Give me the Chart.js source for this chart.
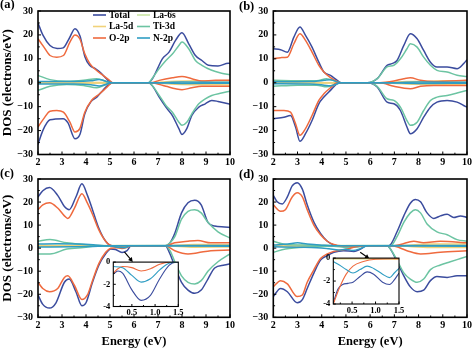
<!DOCTYPE html>
<html><head><meta charset="utf-8">
<script src="https://cdn.jsdelivr.net/npm/chart.js@4.4.1/dist/chart.umd.min.js"></script>
<style>
html,body{margin:0;padding:0;background:#fff;width:474px;height:349px;overflow:hidden}
canvas{position:absolute}
</style></head><body>
<canvas id="ca" width="237" height="168" style="left:0;top:0"></canvas>
<canvas id="cb" width="237" height="168" style="left:237px;top:0"></canvas>
<canvas id="cc" width="237" height="181" style="left:0;top:168px"></canvas>
<canvas id="cd" width="237" height="181" style="left:237px;top:168px"></canvas>
<canvas id="ic" width="88" height="66" style="left:98px;top:254px"></canvas>
<canvas id="idd" width="88" height="66" style="left:318px;top:250px"></canvas>
<script>
// ---------- tick / category info ----------
const energyTicks = [2,3,4,5,6,7,8,9,10];
const dosTicks = [-30,-20,-10,0,10,20,30];
const insetXTicks = [0.5,1.0,1.5];
const insetYTicks = [0,-2,-4];
const seriesNames = ['Total','La-6s','La-5d','Ti-3d','O-2p','N-2p'];

// ---------- panel (a) ----------
const a_total_up = [[2,25],[2.2,20],[2.5,15.6],[2.8,14.3],[3.05,14.6],[3.3,18.5],[3.54,22.6],[3.75,19.5],[3.95,11],[4.15,7.3],[4.4,5.8],[4.6,4.3],[4.85,1.7],[5.05,0.1],[5.2,0],[6.6,0],[6.77,1.7],[6.98,5.9],[7.18,10],[7.46,12.8],[7.73,17.7],[8.0,20.9],[8.28,16.3],[8.56,11.4],[8.83,9.3],[9.1,7.3],[9.5,7.0],[9.93,8.2],[10,8]];
const a_total_dn = [[2,-25.8],[2.2,-20],[2.5,-15.5],[3.05,-15],[3.25,-16.8],[3.54,-23.4],[3.75,-21.5],[3.95,-13],[4.2,-8],[4.45,-6],[4.7,-3.2],[4.95,-0.7],[5.1,0],[6.6,0],[6.75,-1.1],[7.05,-6],[7.33,-10.2],[7.6,-13.7],[7.87,-19.2],[8.0,-21.6],[8.2,-19.2],[8.41,-13.7],[8.7,-10.2],[8.97,-8.8],[9.24,-7.4],[9.5,-7.8],[9.93,-8.8],[10,-9]];
const a_o2p_up = [[2,18.4],[2.24,15],[2.5,11.4],[2.78,10.7],[3.06,11.4],[3.33,17],[3.54,20],[3.74,18.4],[3.95,12.1],[4.16,8],[4.43,5.2],[4.71,3.1],[4.98,1],[5.1,0],[6.7,0],[7.05,1],[7.6,2.1],[8.0,2.6],[8.41,1.7],[8.83,0.7],[9.4,1],[10,1]];
const a_o2p_dn = [[2,-18.5],[2.24,-15],[2.5,-11.9],[2.78,-11.6],[3.06,-12.3],[3.33,-16.5],[3.54,-20.6],[3.74,-19.2],[3.95,-12.3],[4.23,-7.4],[4.57,-4.6],[4.85,-2.1],[5.1,0],[6.7,0],[7.33,-1.5],[7.73,-2.5],[8.0,-2.9],[8.41,-2.1],[8.83,-1.5],[10,-1.5]];
const a_ti3d_up = [[2,3.1],[2.5,1.3],[3.2,0.6],[3.9,1],[4.45,1.7],[4.85,0.5],[5.1,0],[6.6,0],[6.77,2],[7.05,5.9],[7.33,9.3],[7.6,12],[7.87,15.6],[8.0,17],[8.28,14.2],[8.56,9.3],[8.83,7.3],[9.24,5.2],[9.65,4],[10,3.3]];
const a_ti3d_dn = [[2,-3.2],[2.5,-1.5],[3.2,-0.7],[3.9,-1.1],[4.45,-2.1],[4.85,-0.7],[5.1,0],[6.6,0],[7.05,-5.3],[7.33,-9.5],[7.6,-12.3],[7.87,-16.5],[8.0,-17.8],[8.2,-16.5],[8.41,-13],[8.7,-8.8],[8.97,-6.7],[9.24,-5.3],[9.65,-4.3],[10,-3.5]];
const a_n2p_up = [[2,0.5],[3.5,0.5],[4.2,0.8],[4.55,1.4],[4.9,0.4],[5.1,0],[6.8,0],[8,0.3],[10,0.2]];
const a_n2p_dn = [[2,-0.5],[3.5,-0.5],[4.2,-0.8],[4.55,-1.4],[4.9,-0.4],[5.1,0],[6.8,0],[8,-0.3],[10,-0.2]];
const a_la5d_up = [[2,0.2],[5,0.1],[5.1,0],[6.7,0],[7.5,0.5],[8.5,0.8],[10,0.9]];
const a_la5d_dn = [[2,-0.2],[5,-0.1],[5.1,0],[6.7,0],[7.5,-0.5],[8.5,-0.8],[10,-0.9]];
const a_la6s_up = [[2,0.1],[5,0.05],[6.7,0],[10,0.2]];
const a_la6s_dn = [[2,-0.1],[5,-0.05],[6.7,0],[10,-0.2]];

// ---------- panel (b) ----------
const b_total_up = [[2,14.2],[2.3,13.8],[2.58,12.8],[2.85,19.1],[3.1,23.3],[3.33,19.8],[3.6,14.9],[3.88,8.6],[4.09,4.5],[4.36,3.1],[4.64,1],[4.8,0],[5.88,0],[6.29,1.7],[6.7,7.3],[6.9,8],[7.11,9.3],[7.39,15.6],[7.66,20.5],[7.94,18.4],[8.21,13.5],[8.49,8.6],[8.76,6.6],[9.18,6.6],[9.59,5.9],[9.86,8],[10,9.6]];
const b_total_dn = [[2,-15],[2.44,-14.4],[2.71,-13.7],[2.92,-18.5],[3.1,-24.5],[3.33,-21.3],[3.6,-15.8],[3.88,-8.8],[4.09,-6],[4.36,-3.2],[4.64,-0.4],[4.8,0],[5.88,0],[6.29,-1.8],[6.7,-8.1],[6.98,-8.8],[7.25,-11.6],[7.52,-18.5],[7.66,-21.3],[7.94,-19.2],[8.21,-14.4],[8.49,-10.2],[8.76,-8.1],[9.18,-7.4],[9.59,-8.1],[9.86,-9.5],[10,-10.2]];
const b_o2p_up = [[2,10],[2.3,10.5],[2.58,10.7],[2.85,16.3],[3.1,20.5],[3.33,17.7],[3.6,12.8],[3.88,7.3],[4.09,4.5],[4.36,2.1],[4.64,0.5],[4.8,0],[6.4,0],[6.98,0.7],[7.39,1.7],[7.66,2.1],[8.08,1],[8.63,0.5],[10,1]];
const b_o2p_dn = [[2,-11.6],[2.44,-11.6],[2.71,-12.3],[2.92,-17.2],[3.1,-22],[3.33,-19.2],[3.6,-13.7],[3.88,-7.4],[4.09,-4.6],[4.36,-2.1],[4.64,0],[6.4,0],[6.98,-1.5],[7.66,-2.5],[8.08,-1.5],[8.63,-1.1],[10,-1.1]];
const b_ti3d_up = [[2,1],[3,0.8],[3.8,0.8],[4.2,1.7],[4.6,0.5],[4.8,0],[5.88,0],[6.29,1.7],[6.7,6.6],[6.98,7.3],[7.25,10],[7.52,14.2],[7.66,16.3],[7.94,14.9],[8.21,10.7],[8.49,7.3],[8.76,5.2],[9.18,4.5],[9.59,3.1],[10,2.6]];
const b_ti3d_dn = [[2,-1.5],[3,-1],[3.8,-1],[4.2,-1.7],[4.6,-0.5],[4.8,0],[5.88,0],[6.29,-1.5],[6.7,-6.7],[6.98,-7.4],[7.25,-10.2],[7.52,-15.8],[7.66,-17.8],[7.94,-16.5],[8.21,-11.6],[8.49,-7.4],[8.76,-6],[9.18,-5.3],[9.59,-4.3],[10,-3.2]];
const b_n2p_up = [[2,0.4],[3.5,0.5],[4.1,1],[4.35,1.3],[4.7,0.2],[4.8,0],[6.5,0],[8,0.3],[10,0.2]];
const b_n2p_dn = [[2,-0.4],[3.5,-0.5],[4.1,-1],[4.35,-1.3],[4.7,-0.2],[4.8,0],[6.5,0],[8,-0.3],[10,-0.2]];
const b_la5d_up = [[2,0.2],[4.8,0],[6.5,0],[7.5,0.5],[9,0.8],[10,0.9]];
const b_la5d_dn = [[2,-0.2],[4.8,0],[6.5,0],[7.5,-0.5],[9,-0.8],[10,-0.9]];
const b_la6s_up = [[2,0.1],[4.8,0],[6.5,0],[10,0.2]];
const b_la6s_dn = [[2,-0.1],[4.8,0],[6.5,0],[10,-0.2]];

// ---------- panel (c) ----------
const c_total_up = [[2,22.2],[2.2,24.9],[2.48,26.3],[2.82,22.9],[3.1,18.1],[3.3,16.7],[3.58,22.2],[3.83,27.9],[4.06,22.9],[4.27,16.7],[4.54,8.5],[4.82,3],[5.09,1],[7.3,1],[7.5,2.3],[7.7,6.4],[7.98,15.3],[8.25,19.7],[8.53,20.8],[8.8,18.8],[9.08,11.2],[9.36,9.6],[9.77,9.2],[10,9]];
const c_total_dn = [[2,-20.3],[2.2,-24.4],[2.48,-26],[2.75,-23.7],[3.1,-14.8],[3.3,-13.4],[3.58,-18.9],[3.83,-25],[4.0,-23.7],[4.27,-14.8],[4.54,-7.3],[4.82,-2.5],[5.03,-0.4],[5.23,-0.6],[5.5,-1.9],[5.71,-1.1],[5.88,1],[7.3,1],[7.5,-2.5],[7.7,-7.9],[7.98,-14.8],[8.25,-18.2],[8.53,-19.6],[8.8,-18.2],[9.08,-13.4],[9.36,-8.6],[9.77,-7.3],[10,-6.8]];
const c_o2p_up = [[2,16.7],[2.2,18.8],[2.48,19.7],[2.82,17.4],[3.1,14],[3.24,12.9],[3.52,17.4],[3.83,23.6],[4.06,19.5],[4.27,14.7],[4.54,7.8],[4.82,3],[5.09,1],[7.3,1],[7.7,2.3],[8.25,3],[8.66,3.3],[9.2,2.3],[10,2.3]];
const c_o2p_dn = [[2,-14.8],[2.2,-17.5],[2.48,-18.9],[2.82,-17.5],[3.1,-12.7],[3.24,-12],[3.52,-16.2],[3.83,-22.3],[4.06,-20.3],[4.27,-14.1],[4.54,-6.6],[4.82,-1.8],[5.03,0],[5.25,0.2],[5.5,-0.1],[5.75,0.5],[5.9,1],[7.3,1],[7.7,-1.1],[8.25,-2.5],[8.66,-2],[9.2,-1.1],[10,-0.8]];
const c_ti3d_up = [[2,3],[2.5,3.7],[3.2,2.3],[3.9,1.6],[4.6,1],[7.3,1],[7.5,2.3],[7.7,5],[7.98,12.6],[8.25,16],[8.53,16.7],[8.8,15.3],[9.08,11.2],[9.5,7.1],[10,4.4]];
const c_ti3d_dn = [[2,-2.5],[2.5,-2.5],[3.2,-0.4],[3.9,0.3],[4.6,1],[5.1,1],[5.5,0.2],[5.85,1],[7.3,1],[7.5,-1.1],[7.7,-5.9],[7.98,-12],[8.25,-14.8],[8.53,-15.5],[8.8,-14.1],[9.08,-10],[9.5,-5.9],[10,-2.5]];
const c_n2p_up = [[2,1.8],[2.8,1.9],[3.6,1.8],[4.3,1.5],[4.9,1],[10,1.2]];
const c_n2p_dn = [[2,0.5],[3.5,0.6],[4.5,0.8],[5.0,1],[5.3,0.4],[5.6,0.2],[5.85,1],[10,0.8]];
const c_la5d_up = [[2,1.2],[5,1],[7.3,1],[8.5,1.6],[10,1.5]];
const c_la5d_dn = [[2,0.8],[5,1],[7.3,1],[8.5,0.4],[10,0.5]];
const c_la6s_up = [[2,1.1],[10,1.1]];
const c_la6s_dn = [[2,0.9],[10,0.9]];

// ---------- panel (d) ----------
const d_total_up = [[2,22.9],[2.16,20.1],[2.37,19.2],[2.58,22.2],[2.78,27],[2.99,28.4],[3.2,25.6],[3.4,18.8],[3.68,11.2],[3.95,6.4],[4.23,3],[4.5,1.4],[4.8,1],[6.7,1],[6.84,1.5],[7.11,7.1],[7.39,14],[7.66,19.5],[7.87,21.1],[8.08,20.1],[8.35,15.3],[8.63,12.9],[8.9,14],[9.18,14.7],[9.45,13.3],[9.73,14],[10,13.3]];
const d_total_dn = [[2,-21],[2.3,-17.5],[2.58,-18.9],[2.99,-23.7],[3.2,-22.3],[3.4,-17.5],[3.68,-10.7],[3.95,-5.2],[4.23,-3.2],[4.5,-1.8],[4.9,-1.1],[5.33,-1.4],[5.6,-0.4],[5.85,1],[6.7,1],[6.84,-0.4],[7.11,-5.9],[7.39,-12],[7.66,-16.8],[7.94,-18.9],[8.21,-18.2],[8.49,-14.1],[8.76,-12.3],[9.18,-12.7],[9.59,-12],[10,-12]];
const d_o2p_up = [[2,18.8],[2.3,16],[2.5,16.7],[2.78,22.2],[2.99,24],[3.2,22.2],[3.4,16.7],[3.68,9.9],[3.95,5.8],[4.23,3],[4.5,1.6],[4.8,1],[6.9,1],[7.25,1.6],[7.8,3],[8.2,2.3],[8.9,3],[10,2.3]];
const d_o2p_dn = [[2,-16.8],[2.3,-14.1],[2.58,-15.5],[2.99,-21],[3.2,-20.3],[3.4,-14.8],[3.68,-9.3],[3.95,-4.5],[4.23,-2.5],[4.5,-1.4],[5.05,-0.4],[5.4,0.6],[5.7,1],[6.9,1],[7.52,-1.1],[8.08,-2.5],[8.9,-1.8],[10,-1.1]];
const d_ti3d_up = [[2,3],[2.5,1.6],[3.2,1.4],[4,1.2],[4.8,1],[6.84,1],[7.11,5],[7.39,11.2],[7.66,15.3],[7.87,16.7],[8.08,15.3],[8.35,10.5],[8.76,7.1],[9.18,5.8],[9.59,3.7],[10,3]];
const d_ti3d_dn = [[2,-1.8],[2.5,-0.4],[3.5,0.5],[4.5,0.8],[5,0.3],[5.5,0.5],[5.8,1],[6.7,1],[6.84,-0.4],[7.11,-5.2],[7.39,-10.7],[7.66,-13.4],[7.94,-14.8],[8.21,-13.4],[8.49,-9.3],[8.9,-7.3],[9.31,-5.9],[9.73,-4.5],[10,-3.6]];
const d_n2p_up = [[2,1.4],[2.6,1.8],[3.0,2.3],[3.4,1.8],[4,1.3],[4.6,1],[10,1.2]];
const d_n2p_dn = [[2,0.6],[3,0.4],[3.8,0.2],[4.3,-0.3],[4.7,-0.8],[5.0,-0.5],[5.3,-1],[5.6,-0.2],[5.9,1],[10,0.8]];
const d_la5d_up = [[2,1.2],[5,1],[7,1],[8.5,1.8],[10,1.8]];
const d_la5d_dn = [[2,0.8],[5,1],[7,1],[8.5,0.3],[10,0.3]];
const d_la6s_up = [[2,1.1],[10,1.2]];
const d_la6s_dn = [[2,0.9],[10,0.8]];

// ---------- insets ----------
const ci_total = [[0.1,-1.1],[0.2,-0.8],[0.3,-1.0],[0.5,-2.5],[0.7,-3.45],[0.9,-3.0],[1.1,-1.5],[1.3,-0.3],[1.45,0],[1.5,0]];
const ci_n2p = [[0.1,-0.4],[0.3,-0.5],[0.5,-1.2],[0.7,-1.8],[0.9,-1.5],[1.1,-0.7],[1.3,-0.1],[1.5,0]];
const ci_o2p = [[0.1,-1.0],[0.2,-0.6],[0.3,-0.4],[0.5,-0.5],[0.7,-0.8],[0.9,-0.6],[1.1,-0.2],[1.3,0],[1.5,0]];
const di_total = [[0.1,-3.9],[0.2,-2.7],[0.3,-2.3],[0.41,-2.2],[0.52,-2.1],[0.67,-1.6],[0.82,-1.2],[0.96,-1.4],[1.15,-2.1],[1.3,-2.3],[1.4,-1.9],[1.5,-1.3]];
const di_n2p = [[0.1,-0.3],[0.23,-0.6],[0.375,-1.0],[0.52,-1.3],[0.67,-1.0],[0.82,-0.7],[0.96,-0.9],[1.15,-1.4],[1.3,-1.7],[1.4,-1.3],[1.5,-0.9]];
const di_o2p = [[0.1,-4],[0.23,-2.6],[0.375,-1.4],[0.52,-0.7],[0.74,-0.3],[1.0,-0.1],[1.5,-0.05]];
const di_la5d = [[0.1,-0.05],[0.8,-0.05],[1.5,-0.1]];
const di_la6s = [[0.1,-0.08],[1.5,-0.08]];

// arrows (data coordinates of main panels)
const c_arrow = [[5.6,-1.6],[5.95,-6]];
const d_arrow = [[5.59,-1.8],[5.97,-4.6]];

// ---------- styling ----------
Chart.defaults.font.family = "'Liberation Serif','Times New Roman',serif";
Chart.defaults.font.weight = 'bold';
Chart.defaults.color = '#000';

const COLORS = {'Total':'#3b4c9e','La-6s':'#cbe6a6','La-5d':'#f1d27a','Ti-3d':'#6cc4a2','O-2p':'#ef6a3e','N-2p':'#2f9dc3'};
const ORDER = {'Total':3,'La-6s':5,'La-5d':4,'Ti-3d':2,'O-2p':1,'N-2p':0};

function ds(label, pts, lw){
  return {label, data: pts.map(p=>({x:p[0],y:p[1]})), borderColor: COLORS[label], backgroundColor: COLORS[label],
    borderWidth: lw||1.5, pointRadius:0, cubicInterpolationMode:'monotone', fill:false, order: ORDER[label]};
}

const framePlugin = {
  id:'frame',
  afterDatasetsDraw(chart, args, o){
    const {ctx, chartArea:a, scales:{x,y}} = chart;
    ctx.save();
    ctx.strokeStyle = '#000';
    ctx.lineWidth = 1;
    ctx.beginPath();
    const eps = 1e-6;
    let v = Math.ceil((x.min - eps)/o.xMinor)*o.xMinor;
    for (; v <= x.max + eps; v += o.xMinor){
      const px = x.getPixelForValue(v);
      const r = v/o.xMajor; const major = Math.abs(r - Math.round(r)) < 1e-6;
      const L = major ? o.major : o.minor;
      ctx.moveTo(px, a.bottom); ctx.lineTo(px, a.bottom - L);
    }
    v = Math.ceil((y.min - eps)/o.yMinor)*o.yMinor;
    for (; v <= y.max + eps; v += o.yMinor){
      const py = y.getPixelForValue(v);
      const r = v/o.yMajor; const major = Math.abs(r - Math.round(r)) < 1e-6;
      const L = major ? o.major : o.minor;
      ctx.moveTo(a.left, py); ctx.lineTo(a.left + L, py);
    }
    ctx.stroke();
    ctx.lineWidth = o.lw;
    ctx.strokeRect(a.left, a.top, a.width, a.height);
    ctx.restore();
  }
};

const labelPlugin = {
  id:'panelLabel',
  afterDraw(chart, args, o){
    if (!o || !o.text) return;
    const ctx = chart.ctx;
    ctx.save();
    ctx.font = "bold 12.5px 'Liberation Serif', serif";
    ctx.fillStyle = '#000';
    ctx.textBaseline = 'middle';
    ctx.textAlign = 'left';
    ctx.fillText(o.text, o.x, o.y);
    ctx.restore();
  }
};

const legendPlugin = {
  id:'legendBox',
  afterDraw(chart, args, o){
    if (!o || !o.show) return;
    const ctx = chart.ctx;
    const seen = [];
    chart.data.datasets.forEach(d=>{ if (!seen.includes(d.label)) seen.push(d.label); });
    const items = seriesNames.filter(n=>seen.includes(n));
    ctx.save();
    ctx.font = "bold 9.5px 'Liberation Serif', serif";
    ctx.textBaseline = 'middle';
    items.forEach((name, i)=>{
      const col = i % 2, row = Math.floor(i/2);
      const x0 = o.cols[col], y0 = o.rows[row];
      ctx.strokeStyle = COLORS[name];
      ctx.lineWidth = 1.6;
      ctx.beginPath(); ctx.moveTo(x0, y0); ctx.lineTo(x0 + o.len, y0); ctx.stroke();
      ctx.fillStyle = '#000';
      ctx.fillText(name, x0 + o.len + 3, y0 + 0.5);
    });
    ctx.restore();
  }
};

const arrowPlugin = {
  id:'arrow',
  afterDraw(chart, args, o){
    if (!o || !o.pts) return;
    const {ctx, scales:{x,y}} = chart;
    const x0 = x.getPixelForValue(o.pts[0][0]), y0 = y.getPixelForValue(o.pts[0][1]);
    const x1 = x.getPixelForValue(o.pts[1][0]), y1 = y.getPixelForValue(o.pts[1][1]);
    const ang = Math.atan2(y1-y0, x1-x0);
    ctx.save();
    ctx.strokeStyle = '#000'; ctx.fillStyle = '#000'; ctx.lineWidth = 1.1;
    ctx.beginPath(); ctx.moveTo(x0,y0); ctx.lineTo(x1 - 3*Math.cos(ang), y1 - 3*Math.sin(ang)); ctx.stroke();
    const h = 4.5, w = 2.4;
    ctx.beginPath();
    ctx.moveTo(x1, y1);
    ctx.lineTo(x1 - h*Math.cos(ang) + w*Math.sin(ang), y1 - h*Math.sin(ang) - w*Math.cos(ang));
    ctx.lineTo(x1 - h*Math.cos(ang) - w*Math.sin(ang), y1 - h*Math.sin(ang) + w*Math.cos(ang));
    ctx.closePath(); ctx.fill();
    ctx.restore();
  }
};

const whiteBg = {
  id:'whiteBg',
  beforeDraw(chart){
    const {ctx, chartArea:a} = chart;
    ctx.save(); ctx.fillStyle = '#fff'; ctx.fillRect(a.left, a.top, a.width, a.height); ctx.restore();
  }
};

function minusFmt(v){ return v < 0 ? '\u2212' + Math.abs(v) : String(v); }

function mainChart(id, sets, cfg){
  return new Chart(document.getElementById(id), {
    type:'line',
    data:{datasets: sets},
    options:{
      responsive:false, animation:false, devicePixelRatio:1,
      layout:{padding:{left:0, top:cfg.top, right:cfg.right, bottom:0}},
      plugins:{
        legend:{display:false}, tooltip:{enabled:false},
        frame:{xMinor:0.5, xMajor:1, yMinor:5, yMajor:10, major:3, minor:1.8, lw:1.6},
        panelLabel:{text:cfg.label, x:cfg.lx, y:cfg.ly},
        legendBox: cfg.legend ? {show:true, cols:[93,137], rows:[15,26.5,38], len:13} : {show:false},
        arrow: cfg.arrow ? {pts:cfg.arrow} : {}
      },
      scales:{
        x:{type:'linear', min:energyTicks[0], max:energyTicks[energyTicks.length-1],
           afterBuildTicks(s){ s.ticks = energyTicks.map(v=>({value:v})); },
           ticks:{padding:2, font:{size:10, weight:'bold'}, color:'#000', maxRotation:0, autoSkip:false},
           grid:{display:false, drawTicks:false}, border:{display:false},
           title: cfg.xTitle ? {display:true, text:'Energy (eV)', font:{size:12.5, weight:'bold'}, color:'#000', padding:0} : {display:false},
           afterFit(s){ s.height = cfg.xh; }},
        y:{type:'linear', min:dosTicks[0], max:dosTicks[dosTicks.length-1],
           afterBuildTicks(s){ s.ticks = dosTicks.map(v=>({value:v})); },
           ticks:{padding:5, font:{size:10, weight:'bold'}, color:'#000', callback:minusFmt},
           grid:{display:false, drawTicks:false}, border:{display:false},
           title: cfg.yTitle ? {display:true, text:'DOS (electrons/eV)', font:{size:13, weight:'bold'}, color:'#000', padding:0} : {display:false},
           afterFit(s){ s.width = cfg.yw; }}
      }
    },
    plugins:[framePlugin, labelPlugin, legendPlugin, arrowPlugin]
  });
}

function insetChart(id, sets, cfg){
  return new Chart(document.getElementById(id), {
    type:'line',
    data:{datasets: sets},
    options:{
      responsive:false, animation:false, devicePixelRatio:1,
      layout:{padding:{left:0, top:cfg.top, right:cfg.right, bottom:0}},
      plugins:{legend:{display:false}, tooltip:{enabled:false},
        frame:{xMinor:0.25, xMajor:0.5, yMinor:1, yMajor:2, major:2.5, minor:1.5, lw:1.1}},
      scales:{
        x:{type:'linear', min:0.1, max:1.5,
           afterBuildTicks(s){ s.ticks = insetXTicks.map(v=>({value:v})); },
           ticks:{padding:1.5, font:{size:8.5, weight:'bold'}, color:'#000', maxRotation:0, autoSkip:false, callback:v=>v.toFixed(1)},
           grid:{display:false, drawTicks:false}, border:{display:false},
           afterFit(s){ s.height = cfg.xh; }},
        y:{type:'linear', min:-4, max:0,
           afterBuildTicks(s){ s.ticks = insetYTicks.map(v=>({value:v})); },
           ticks:{padding:3, font:{size:8.5, weight:'bold'}, color:'#000', callback:v=>String(v)},
           grid:{display:false, drawTicks:false}, border:{display:false},
           afterFit(s){ s.width = cfg.yw; }}
      }
    },
    plugins:[whiteBg, framePlugin]
  });
}

mainChart('ca', [
  ds('Total',a_total_up), ds('Total',a_total_dn), ds('La-6s',a_la6s_up), ds('La-6s',a_la6s_dn),
  ds('La-5d',a_la5d_up), ds('La-5d',a_la5d_dn), ds('Ti-3d',a_ti3d_up), ds('Ti-3d',a_ti3d_dn),
  ds('O-2p',a_o2p_up), ds('O-2p',a_o2p_dn), ds('N-2p',a_n2p_up), ds('N-2p',a_n2p_dn)
], {top:10.5, right:5, xh:13.5, yw:38, yTitle:true, label:'(a)', lx:0, ly:5, legend:true});

mainChart('cb', [
  ds('Total',b_total_up), ds('Total',b_total_dn), ds('La-6s',b_la6s_up), ds('La-6s',b_la6s_dn),
  ds('La-5d',b_la5d_up), ds('La-5d',b_la5d_dn), ds('Ti-3d',b_ti3d_up), ds('Ti-3d',b_ti3d_dn),
  ds('O-2p',b_o2p_up), ds('O-2p',b_o2p_dn), ds('N-2p',b_n2p_up), ds('N-2p',b_n2p_dn)
], {top:10.5, right:6.7, xh:13.5, yw:36.3, label:'(b)', lx:2, ly:7});

mainChart('cc', [
  ds('Total',c_total_up), ds('Total',c_total_dn), ds('La-6s',c_la6s_up), ds('La-6s',c_la6s_dn),
  ds('La-5d',c_la5d_up), ds('La-5d',c_la5d_dn), ds('Ti-3d',c_ti3d_up), ds('Ti-3d',c_ti3d_dn),
  ds('O-2p',c_o2p_up), ds('O-2p',c_o2p_dn), ds('N-2p',c_n2p_up), ds('N-2p',c_n2p_dn)
], {top:4, right:5, xh:31.7, yw:38, yTitle:true, xTitle:true, label:'(c)', lx:0, ly:6, arrow:c_arrow});

mainChart('cd', [
  ds('Total',d_total_up), ds('Total',d_total_dn), ds('La-6s',d_la6s_up), ds('La-6s',d_la6s_dn),
  ds('La-5d',d_la5d_up), ds('La-5d',d_la5d_dn), ds('Ti-3d',d_ti3d_up), ds('Ti-3d',d_ti3d_dn),
  ds('O-2p',d_o2p_up), ds('O-2p',d_o2p_dn), ds('N-2p',d_n2p_up), ds('N-2p',d_n2p_dn)
], {top:4, right:6.7, xh:31.7, yw:36.3, xTitle:true, label:'(d)', lx:2, ly:7, arrow:d_arrow});

insetChart('ic', [ds('Total',ci_total,1.1), ds('N-2p',ci_n2p,1.1), ds('O-2p',ci_o2p,1.1)],
  {top:5.5, right:7.7, xh:13.5, yw:15.3});
insetChart('idd', [ds('Total',di_total,1.1), ds('N-2p',di_n2p,1.1), ds('O-2p',di_o2p,1.1), ds('La-5d',di_la5d,1.1), ds('La-6s',di_la6s,1.1)],
  {top:6.7, right:7, xh:12, yw:15.3});
</script>
</body></html>
